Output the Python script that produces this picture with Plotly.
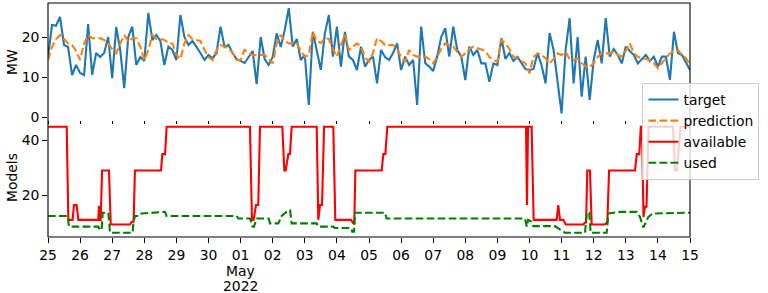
import numpy as np
import pandas as pd
import plotly.graph_objects as go

start = pd.Timestamp("2022-04-25 00:00")

# 3-hourly target / prediction (MW)
target = [15, 23, 22.8, 25, 18, 17.5, 10.5, 13, 11, 10.5,
          23.25, 10.5, 16, 15, 16, 20, 9.7, 22.5, 16.75, 7.2,
          20, 22.6, 13, 15, 14, 26, 19.25, 20.5, 19, 13,
          17.6, 16.75, 14.25, 25.5, 20, 18, 19, 17.6, 16, 14.25,
          15.5, 14.7, 16, 22.6, 17.5, 18, 16, 14.5, 14, 13.5,
          15, 16.5, 8.2, 20, 14.5, 13, 15, 20.9, 17.5, 21.75,
          27.2, 17.6, 19.5, 14.25, 15.5, 3, 21.3, 16.75, 11.75, 20.9,
          25.5, 15.1, 22.6, 12.6, 21.3, 15.1, 14.25, 11.75, 17.6, 12.6,
          14.25, 15.1, 8.4, 16.75, 15, 14.25, 16, 18.4, 11.75, 15.1,
          13, 14.25, 3, 22.6, 13.5, 12.6, 11.5, 15.1, 20, 22.2,
          15.1, 22.6, 16.75, 15.1, 9.25, 17.6, 15.5, 16.75, 13.4, 13.4,
          8.8, 13.4, 13, 19.7, 14.5, 16, 14, 15, 13.5, 12,
          11.75, 12, 16, 13, 8.4, 21, 16.75, 8.4, 0.9, 16.75,
          24.7, 8.4, 20, 5.1, 15.1, 4.25, 14.25, 19.25, 13.4, 24.7,
          15.1, 17, 15.5, 13.4, 17.6, 16.5, 15.5, 13.4, 14.5, 15.5,
          14, 15.1, 12.6, 15.1, 15.1, 9.25, 21.3, 16, 15.5, 13.5,
          11.75]

prediction = [14.25, 17.5, 19.5, 20.5, 19.5, 18.4, 18, 16.5, 14.25, 18.4,
              20.5, 19.7, 19.7, 19.7, 19.25, 18.4, 17, 15.9, 18.4, 20.5,
              18.8, 19.7, 19.7, 17.6, 14.25, 16.75, 20.5, 19.5, 19.5, 19.25,
              18.5, 18.4, 15.5, 14.5, 18.4, 20.5, 19.5, 19.25, 19, 16.75,
              15, 14.25, 16.75, 18, 17.6, 17.2, 16, 14.25, 14.25, 16.75,
              16, 15.5, 15.5, 15.5, 15.5, 14.5, 13.4, 18.4, 20.5, 19,
              18.4, 18.4, 18.4, 16.5, 15.1, 15.5, 21.3, 19, 18.5, 19.7,
              19.5, 17, 15.1, 18, 20.5, 16.75, 17.6, 18.4, 17.6, 15,
              13.8, 16, 19.7, 19, 18, 18, 18, 17, 15, 13.8,
              16.75, 15.5, 15.1, 15.1, 15.1, 14.5, 13.4, 15.1, 17, 18.4,
              18, 17.6, 16.3, 15.1, 15.9, 17, 17.6, 17.2, 17, 16.5,
              15, 14.25, 13.8, 19.25, 18.4, 17, 15.1, 14.5, 14, 13.4,
              10.9, 15, 15.9, 15.5, 14.7, 13.4, 14.5, 15.9, 15.5, 16.3,
              14.5, 14.25, 14.7, 13.5, 12.6, 12.4, 13.5, 15.1, 15.9, 15.9,
              15.9, 16.3, 15.5, 15.1, 16.5, 18.4, 16, 15, 14.7, 14.5,
              14.25, 13.5, 12.2, 13.5, 14.7, 15.9, 16.3, 16.75, 15.5, 14.7,
              13]

# available models: change points (hours since start, models)
avail_hours = [0, 14, 15.2, 18.4, 19.4, 21.4, 22.7, 37.6, 38.1, 38.6, 39.4, 40.4, 45.6, 46.9,
               61.3, 62.6, 64, 65, 84.5, 85.5, 87.5, 88.7, 151, 152.5, 153.7, 155.5, 157.2,
               158.5, 175.2, 176.7, 177.7, 179.7, 180.9, 182.2, 200.9, 202.1, 203.4, 204.9,
               206.4, 213.3, 214.8, 226.6, 228.3, 229, 229.8, 249.5, 250.7, 252.2, 253.7,
               357.4, 358.1, 358.9, 361.6, 363.1, 380.3, 381.5, 382.8, 385.3, 387.1, 400.3,
               401.5, 402.3, 403.2, 405.2, 406.5, 416.5, 417.7, 418.2, 419.5, 438.9, 440.2,
               442.1, 443.2, 444.1, 445.2, 446.4, 447.5, 449, 467.3, 468.8, 470.3, 471.4,
               472.9, 480]
avail_models = [45, 45, 11, 11, 16.4, 16.4, 11, 11, 16, 11, 11, 29, 29, 9.3,
                9.3, 10.3, 10.3, 29, 29, 35, 35, 45, 45, 11, 11, 16.4, 16.4,
                45, 45, 29, 29, 35, 35, 45, 45, 11, 16.4, 16.4,
                45, 45, 11, 11, 9.7, 9.7, 29, 29, 35, 35, 45,
                45, 16.4, 45, 45, 11, 11, 16.4, 11, 11, 9.3, 9.3,
                10, 10, 29, 29, 9.3, 9.3, 10, 10.3, 29, 29, 35,
                35, 45, 45, 12, 15.8, 15.8, 45, 45, 29, 29, 35,
                45, 45]

# used models: change points (hours since start, models)
used_hours = [0, 14.7, 15.7, 37.6, 38.9, 40.1, 40.9, 45.1, 46.4, 63.3, 63.8, 65, 68, 70,
              87.5, 88.7, 141, 142.3, 151, 153, 154, 156, 165, 166, 172.2, 174.7, 179.7,
              181, 182.2, 200.9, 202.1, 213.3, 214.6, 226.6, 227.5, 228.8, 229.5, 252,
              253.2, 356.6, 358, 359, 361, 362.8, 379, 381.5, 386.5, 401.5, 402.8, 404.7,
              405.7, 417.7, 419, 427.7, 440.2, 442.6, 445.1, 448.9, 452, 480]
used_models = [12.4, 12.4, 8.5, 8.5, 7.3, 7.3, 13.6, 13.6, 6.3, 6.3, 9.7, 12.4, 12.4, 13.3,
               13.9, 12.4, 12.4, 11.5, 11.5, 8.5, 8.5, 11.5, 11.5, 9.7, 9.7, 12.4, 14.5,
               14.5, 9.7, 9.7, 8.5, 8.5, 8, 8, 6.7, 6.7, 13.6, 13.6,
               11.5, 11.5, 8.5, 11, 10.5, 8.7, 8.7, 7.9, 6.3, 6.3, 13.6, 13.6,
               6.3, 6.3, 13.3, 13.9, 13.9, 12.1, 8.2, 12.1, 13.3, 13.6]

day_ticks = pd.date_range("2022-04-25", "2022-05-15", freq="D")
day_labels = ["25", "26", "27", "28", "29", "30", "01", "02", "03", "04",
              "05", "06", "07", "08", "09", "10", "11", "12", "13", "14", "15"]
month_label = "May"
year_label = "2022"
month_tick = pd.Timestamp("2022-05-01")

t3 = start + pd.to_timedelta(np.arange(len(target)) * 3, unit="h")
t_av = start + pd.to_timedelta(avail_hours, unit="h")
t_us = start + pd.to_timedelta(used_hours, unit="h")

FONT = "DejaVu Sans"
FS = 13.9
dash = "7.7px,3.3px"

fig = go.Figure()
fig.add_trace(go.Scatter(x=t3, y=target, name="target", mode="lines",
                         line=dict(color="#1f77b4", width=2.1), xaxis="x", yaxis="y"))
fig.add_trace(go.Scatter(x=t3, y=prediction, name="prediction", mode="lines",
                         line=dict(color="#ff7f0e", width=2.1, dash=dash), xaxis="x", yaxis="y"))
fig.add_trace(go.Scatter(x=t_av, y=avail_models, name="available", mode="lines",
                         line=dict(color="#ff0000", width=2.1), xaxis="x2", yaxis="y2"))
fig.add_trace(go.Scatter(x=t_us, y=used_models, name="used", mode="lines",
                         line=dict(color="#008000", width=2.1, dash=dash), xaxis="x2", yaxis="y2"))

xr = [day_ticks[0], day_ticks[-1]]
common_tick = dict(ticks="outside", tickcolor="black", tickwidth=1.1,
                   showgrid=False, zeroline=False, showline=False,
                   tickfont=dict(family=FONT, size=FS, color="black"))

txt = dict(family=FONT, size=FS, color="black")

fig.update_layout(
    width=768, height=293,
    margin=dict(l=48, r=78, t=3, b=56, autoexpand=False),
    paper_bgcolor="white", plot_bgcolor="white",
    font=txt,
    xaxis=dict(domain=[0, 1], anchor="y", range=xr, tickvals=day_ticks,
               showticklabels=False, ticklen=3, **common_tick),
    xaxis2=dict(domain=[0, 1], anchor="y2", range=xr, tickvals=day_ticks,
                ticktext=day_labels, ticklen=4.9, **common_tick),
    yaxis=dict(domain=[0.5, 1], anchor="x", range=[-0.75, 28.5], tickvals=[0, 10, 20],
               ticklen=4.9, **common_tick),
    yaxis2=dict(domain=[0, 0.5], anchor="x2", range=[4.73, 47.45], tickvals=[20, 40],
                ticklen=4.9, **common_tick),
    legend=dict(x=0.926, y=0.658, xanchor="left", yanchor="top",
                bgcolor="rgba(255,255,255,0.8)", bordercolor="#cccccc", borderwidth=1,
                font=txt),
    shapes=[dict(type="rect", xref="paper", yref="paper", x0=0, x1=1, y0=0, y1=1,
                 line=dict(color="black", width=1.1), layer="above")],
    annotations=[
        dict(text="MW", xref="paper", yref="paper", x=-0.056, y=0.748, textangle=-90,
             showarrow=False, xanchor="center", yanchor="middle", font=txt),
        dict(text="Models", xref="paper", yref="paper", x=-0.056, y=0.252, textangle=-90,
             showarrow=False, xanchor="center", yanchor="middle", font=txt),
        dict(text=month_label, xref="x2", yref="paper", x=month_tick, y=-0.144,
             showarrow=False, xanchor="center", yanchor="middle", font=txt),
        dict(text=year_label, xref="x2", yref="paper", x=month_tick, y=-0.211,
             showarrow=False, xanchor="center", yanchor="middle", font=txt),
    ],
)

fig.write_html("out.html", config={"displayModeBar": False},
               post_script="document.body.style.margin='0';document.body.style.padding='0';")
